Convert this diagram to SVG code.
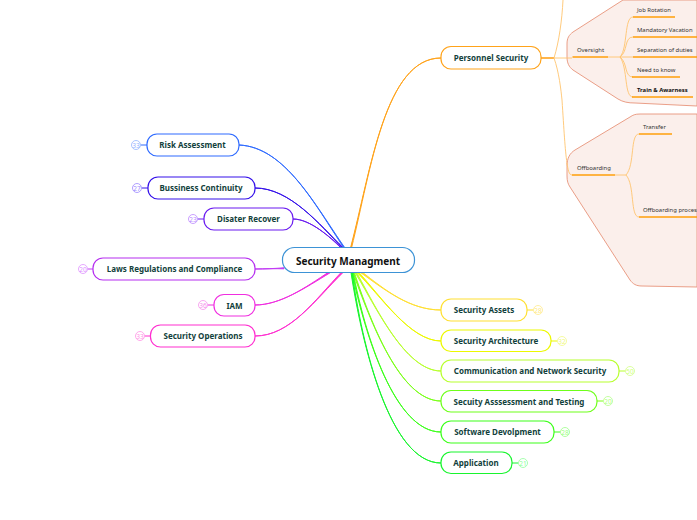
<svg xmlns="http://www.w3.org/2000/svg" width="697" height="520" viewBox="0 0 697 520">
<style>
text{font-family:"Noto Sans","Open Sans","Liberation Sans",sans-serif}
.t{font-size:8px;font-weight:700;fill:#123f3c;text-anchor:middle}
.c{font-size:10px;font-weight:700;fill:#111;text-anchor:middle}
.s{font-size:5.900px;fill:#333}
.b{font-size:6.500px;text-anchor:middle}
.n{fill:#fff;stroke-width:1.200}
.k{stroke-width:1;stroke-linejoin:round}
.lf{fill:none;stroke:#ffc46e;stroke-width:.9}
.u{fill:none;stroke:#ff9f0a;stroke-width:1.400}
.bd{fill:#fff;stroke-width:1}
.grp{fill:#fbefeb;stroke:#e8947a;stroke-width:.9}
</style>
<rect width="697" height="520" fill="#fff"/>
<g id="connectors">
<path class="k" fill="#ffa31a" stroke="#ffa31a" d="M350.500 248C371 170 385 58 441 58C385 58 371 170 351.500 248Z"/>
<path class="k" fill="#2f6bff" stroke="#2f6bff" d="M344 248C315 205 285 147 239 145C285 147 315 205 345 248Z"/>
<path class="k" fill="#3410ea" stroke="#3410ea" d="M342.500 248C320 225 290 188 255 188C290 188 320 225 343.500 248Z"/>
<path class="k" fill="#6a1bf0" stroke="#6a1bf0" d="M341 248C330 237 310 219 293 219C310 219 330 237 342 248Z"/>
<path class="k" fill="#c23cf5" stroke="#c23cf5" d="M284 267.800C275 268.500 265 269 255 269C265 269 275 268.500 284 268.800Z"/>
<path class="k" fill="#f02ee0" stroke="#f02ee0" d="M329.500 271.500C305 288 280 305 255 305C280 305 305 288 330.500 272.500Z"/>
<path class="k" fill="#ff2ed0" stroke="#ff2ed0" d="M342 271.500C315 300 290 336 255 336C290 336 315 300 343 272.500Z"/>
<path class="k" fill="#ffe033" stroke="#ffe033" d="M361.500 271.500C385 290 410 310 441 310C410 310 385 290 360.500 272.500Z"/>
<path class="k" fill="#ecf900" stroke="#ecf900" d="M358 271.500C380 295 410 341 441 341C410 341 380 295 357 272.500Z"/>
<path class="k" fill="#b8ff2e" stroke="#b8ff2e" d="M356 271.500C375 305 405 371 441 371C405 371 375 305 355 272.500Z"/>
<path class="k" fill="#7cff1a" stroke="#7cff1a" d="M354 271.500C370 320 400 401 441 401C400 401 370 320 353 272.500Z"/>
<path class="k" fill="#3cff1a" stroke="#3cff1a" d="M353 271.500C365 335 395 432 441 432C395 432 365 335 352 272.500Z"/>
<path class="k" fill="#18f52e" stroke="#18f52e" d="M352 271.500C362 345 390 463 441 463C390 463 362 345 351 272.500Z"/>
<path fill="#ffb54a" d="M541 57H554V59H541Z"/>
<path class="lf" d="M554 58C559 42 562 20 563 0"/>
<path class="lf" d="M554 58C559 72 561 90 562 100C564 130 565 150 567 163C568 170 569 175 572 175"/>
</g>
<g id="oversight-group">
<path class="grp" d="M697 106L635 103C628 103 623 102 618 99L573 70C569 67 567 63 567 57V44C567 38 569 35 573 32L623 0H697Z"/>
<path class="lf" d="M554 58H572"/>
<text class="s" x="577" y="52">Oversight</text>
<path class="u" d="M572.500 57H608"/>
<path class="lf" d="M608 57H633"/>
<path class="lf" d="M620 57C628 48 624 17 633 17"/>
<path class="lf" d="M620 57C628 52 624 37 633 37"/>
<path class="lf" d="M620 57C628 63 624 77 633 77"/>
<path class="lf" d="M620 57C628 68 624 97 633 97"/>
</g>
<g id="job-rotation"><text class="s" x="637" y="12">Job Rotation</text><path class="u" d="M633 17H675"/></g>
<g id="mandatory-vacation"><text class="s" x="637" y="32">Mandatory Vacation</text><path class="u" d="M633 37H697"/></g>
<g id="separation-of-duties"><text class="s" x="637" y="52">Separation of duties</text><path class="u" d="M633 57H697"/></g>
<g id="need-to-know"><text class="s" x="637" y="72">Need to know</text><path class="u" d="M632 77H680"/></g>
<g id="train-awareness"><text class="s" x="637" y="92" style="font-weight:700;fill:#111">Train &amp; Awarness</text><path class="u" d="M632 97H693"/></g>
<g id="offboarding-group">
<path class="grp" d="M697 114H640C635 114 633 115 630 117L575 150C570 153 567 158 567 166V176C567 181 568 184 570 187L630 280C633 284 636 286 642 286L697 287Z"/>
<path class="lf" d="M567 163C568 170 569 175 572 175"/>
<text class="s" x="577" y="170">Offboarding</text>
<path class="u" d="M572 175H615"/>
<path class="lf" d="M615 175H626"/>
<path class="lf" d="M626 175C635 165 630 134 639 134"/>
<path class="lf" d="M626 175C635 185 630 217 639 217"/>
</g>
<g id="transfer"><text class="s" x="643" y="129">Transfer</text><path class="u" d="M639 134H672"/></g>
<g id="offboarding-process"><text class="s" x="643" y="212">Offboarding process</text><path class="u" d="M639 217H697"/></g>
<g id="central"><rect x="282.500" y="247.500" width="132" height="25" rx="12" fill="#fff" stroke="#3d93d6" stroke-width="1.200"/><text class="c" x="348" y="264.500">Security Managment</text></g>
<g id="personnel"><rect class="n" x="441" y="46.500" width="100" height="22.500" rx="10" stroke="#ffa31a"/><text class="t" x="491" y="61">Personnel Security</text></g>
<g id="risk"><path d="M147 145H140" stroke="#2f6bff" fill="none"/><circle class="bd" cx="136" cy="145" r="4.500" stroke="#a9c4ff"/><text class="b" x="136" y="147.500" fill="#8fb0ff">33</text><rect class="n" x="147" y="134" width="92" height="22" rx="10" stroke="#2f6bff"/><text class="t" x="192.500" y="148">Risk Assessment</text></g>
<g id="continuity"><path d="M148 188H141" stroke="#3410ea" fill="none"/><circle class="bd" cx="137" cy="188" r="4.500" stroke="#b0a0ff"/><text class="b" x="137" y="190.500" fill="#9c8aff">27</text><rect class="n" x="148" y="177" width="107" height="22" rx="10" stroke="#3410ea"/><text class="t" x="201" y="191">Bussiness Continuity</text></g>
<g id="disaster"><path d="M204 219H197" stroke="#6a1bf0" fill="none"/><circle class="bd" cx="193" cy="219" r="4.500" stroke="#c9a0ff"/><text class="b" x="193" y="221.500" fill="#b88aff">23</text><rect class="n" x="204" y="208" width="89" height="22" rx="10" stroke="#6a1bf0"/><text class="t" x="248.500" y="222">Disater Recover</text></g>
<g id="laws"><path d="M93 269H87" stroke="#c23cf5" fill="none"/><circle class="bd" cx="83" cy="269" r="4.500" stroke="#e6a8ff"/><text class="b" x="83" y="271.500" fill="#dc90ff">20</text><rect class="n" x="93" y="258" width="162" height="22" rx="10" stroke="#b52ef0"/><text class="t" x="174.500" y="272">Laws Regulations and Compliance</text></g>
<g id="iam"><path d="M214 305H207" stroke="#f02ee0" fill="none"/><circle class="bd" cx="203" cy="305" r="4.500" stroke="#f9a8f2"/><text class="b" x="203" y="307.500" fill="#f590ec">36</text><rect class="n" x="214" y="294.500" width="41" height="21.500" rx="10" stroke="#f02ee0"/><text class="t" x="234.500" y="309">IAM</text></g>
<g id="operations"><path d="M150 336H144" stroke="#ff2ed0" fill="none"/><circle class="bd" cx="140" cy="336" r="4.500" stroke="#ffa8ec"/><text class="b" x="140" y="338.500" fill="#ff90e6">33</text><rect class="n" x="150.500" y="325" width="104.500" height="22" rx="10" stroke="#ff2ed0"/><text class="t" x="203" y="339">Security Operations</text></g>
<g id="assets"><path d="M527 310H534" stroke="#ffe033" fill="none"/><circle class="bd" cx="538" cy="310" r="4.500" stroke="#fff0a0"/><text class="b" x="538" y="312.500" fill="#ffe980">28</text><rect class="n" x="441" y="299" width="86" height="22" rx="10" stroke="#ffe033"/><text class="t" x="484" y="313">Security Assets</text></g>
<g id="architecture"><path d="M551 341H558" stroke="#ecf900" fill="none"/><circle class="bd" cx="562" cy="341" r="4.500" stroke="#f6fca0"/><text class="b" x="562" y="343.500" fill="#f0f880">32</text><rect class="n" x="441" y="330" width="110" height="21.500" rx="10" stroke="#ecf900"/><text class="t" x="496" y="344">Security Architecture</text></g>
<g id="communication"><path d="M619 371H626" stroke="#b8ff2e" fill="none"/><circle class="bd" cx="630" cy="371" r="4.500" stroke="#dcffa0"/><text class="b" x="630" y="373.500" fill="#d0ff80">50</text><rect class="n" x="441" y="360" width="178" height="22" rx="10" stroke="#b8ff2e"/><text class="t" x="530" y="374">Communication and Network Security</text></g>
<g id="testing"><path d="M597 401H604" stroke="#7cff1a" fill="none"/><circle class="bd" cx="608" cy="401" r="4.500" stroke="#c4ffa0"/><text class="b" x="608" y="403.500" fill="#b0ff80">20</text><rect class="n" x="441" y="390.500" width="156" height="21.500" rx="10" stroke="#6eff1a"/><text class="t" x="519" y="404.500">Secuity Asssessment and Testing</text></g>
<g id="software"><path d="M554 432H561" stroke="#3cff1a" fill="none"/><circle class="bd" cx="565" cy="432" r="4.500" stroke="#b0ffa0"/><text class="b" x="565" y="434.500" fill="#98ff80">28</text><rect class="n" x="441" y="421" width="113" height="22" rx="10" stroke="#3cff1a"/><text class="t" x="497.500" y="435">Software Devolpment</text></g>
<g id="application"><path d="M512 463H519" stroke="#18f52e" fill="none"/><circle class="bd" cx="523" cy="463" r="4.500" stroke="#a8ffb0"/><text class="b" x="523" y="465.500" fill="#8cff98">21</text><rect class="n" x="441" y="452" width="71" height="21.500" rx="10" stroke="#18f52e"/><text class="t" x="476" y="466">Application</text></g>
</svg>
